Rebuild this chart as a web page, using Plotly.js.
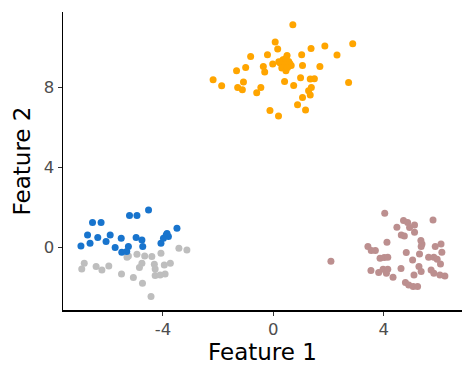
<!DOCTYPE html>
<html>
<head>
<meta charset="utf-8">
<script src="https://cdn.plot.ly/plotly-3.0.1.min.js"></script>
<style>html,body{margin:0;padding:0;background:#fff;}#chart{width:474px;height:379px;}</style>
</head>
<body>
<div id="chart"></div>
<script>
// Cluster 1 (orange)
const orangeX = [0.71,0.07,0.16,1.37,1.87,2.88,-0.82,-0.21,1.03,2.31,0.50,0.35,0.25,0.37,0.56,0.31,0.65,0.46,-0.02,-0.36,-0.31,-1.00,-1.33,1.06,1.69,-2.18,-1.87,-1.08,-1.29,-1.12,-0.45,-0.60,0.41,0.74,0.99,1.34,1.49,1.38,1.28,1.34,1.06,0.88,1.17,-0.12,0.19,2.73,0.45,0.60,0.20,0.52];
const orangeY = [11.13,10.27,9.92,9.95,10.07,10.18,9.55,9.63,9.63,9.62,9.60,9.38,9.22,9.13,9.30,8.97,9.10,8.83,9.17,9.05,8.77,9.00,8.83,9.10,9.05,8.38,8.08,8.27,8.00,7.88,8.00,7.73,8.30,8.10,8.48,8.42,8.43,8.00,7.83,7.62,7.50,7.13,6.87,6.85,6.57,8.25,9.45,9.20,9.28,9.00];
// Cluster 2 (blue)
const blueX = [-4.52,-5.21,-4.94,-6.55,-6.24,-3.49,-6.73,-6.36,-5.91,-6.06,-5.51,-4.97,-4.76,-6.64,-6.97,-5.73,-5.25,-4.73,-5.49,-5.31,-4.07,-3.88,-3.98,-3.80,-3.85];
const blueY = [1.88,1.60,1.60,1.25,1.25,0.97,0.63,0.50,0.63,0.30,0.47,0.50,0.38,0.22,0.08,0.00,0.05,0.05,-0.23,-0.20,0.22,0.63,0.47,0.55,0.70];
// Cluster 3 (gray)
const grayX = [-3.42,-3.13,-4.94,-4.66,-4.40,-4.07,-5.25,-6.85,-6.94,-6.42,-6.21,-5.96,-5.50,-5.07,-4.74,-4.43,-4.76,-4.85,-4.31,-4.28,-4.28,-4.10,-3.92,-3.95,-3.73,-5.30];
const grayY = [-0.03,-0.12,-0.33,-0.42,-0.45,-0.28,-0.42,-0.78,-1.07,-0.95,-1.12,-0.92,-1.32,-1.50,-1.78,-2.45,-0.78,-1.00,-0.83,-1.07,-1.40,-1.37,-1.32,-0.87,-0.78,-0.48];
// Cluster 4 (rosy brown)
const brownX = [4.04,5.79,4.72,4.87,5.12,4.48,4.94,5.12,4.64,4.75,4.12,5.35,5.39,5.36,6.08,5.87,3.43,3.55,3.70,6.11,4.82,5.30,5.63,5.82,5.94,6.06,3.87,4.02,4.15,5.05,2.09,3.54,3.82,3.98,4.15,4.10,4.34,4.63,5.28,5.36,5.10,5.72,5.82,6.04,6.22,4.79,4.91,5.07,5.23];
const brownY = [1.72,1.38,1.35,1.25,1.13,1.02,1.00,0.77,0.63,0.58,0.27,0.35,0.18,0.05,0.18,0.05,0.05,-0.15,-0.15,-0.23,-0.25,-0.32,-0.48,-0.48,-0.58,-0.82,-0.53,-0.50,-0.48,-0.62,-0.68,-1.15,-1.25,-1.08,-1.08,-1.28,-1.48,-1.05,-0.95,-1.20,-1.37,-1.12,-1.28,-1.37,-1.42,-1.75,-1.87,-1.95,-1.95];

const xTicks = [-4, 0, 4];
const yTicks = [0, 4, 8];

function tr(x, y, c) {
  return {x: x, y: y, type: 'scatter', mode: 'markers', marker: {color: c, size: 7}, hoverinfo: 'skip', showlegend: false};
}
const data = [
  tr(grayX, grayY, '#BEBEBE'),
  tr(blueX, blueY, '#1874CD'),
  tr(brownX, brownY, '#BC8F8F'),
  tr(orangeX, orangeY, '#FFA500')
];
const layout = {
  width: 474, height: 379,
  margin: {l: 63, r: 12, t: 12, b: 69},
  paper_bgcolor: '#fff', plot_bgcolor: '#fff',
  font: {family: 'DejaVu Sans', color: '#4D4D4D'},
  xaxis: {
    range: [-7.62, 6.84], tickvals: xTicks, ticktext: xTicks.map(String),
    showgrid: false, zeroline: false, showline: true, linecolor: '#000', linewidth: 1.5,
    ticks: 'outside', ticklen: 4, tickcolor: '#333', tickwidth: 1.2,
    tickfont: {size: 16.5, color: '#4D4D4D'},
    title: {text: 'Feature 1', font: {size: 23, color: '#000'}, standoff: 5}
  },
  yaxis: {
    range: [-3.12, 11.77], tickvals: yTicks, ticktext: yTicks.map(String),
    showgrid: false, zeroline: false, showline: true, linecolor: '#000', linewidth: 1.5,
    ticks: 'outside', ticklen: 4, tickcolor: '#333', tickwidth: 1.2,
    tickfont: {size: 16.5, color: '#4D4D4D'},
    title: {text: 'Feature 2', font: {size: 23, color: '#000'}, standoff: 6}
  }
};
Plotly.newPlot('chart', data, layout, {displayModeBar: false, staticPlot: true});
</script>
</body>
</html>
